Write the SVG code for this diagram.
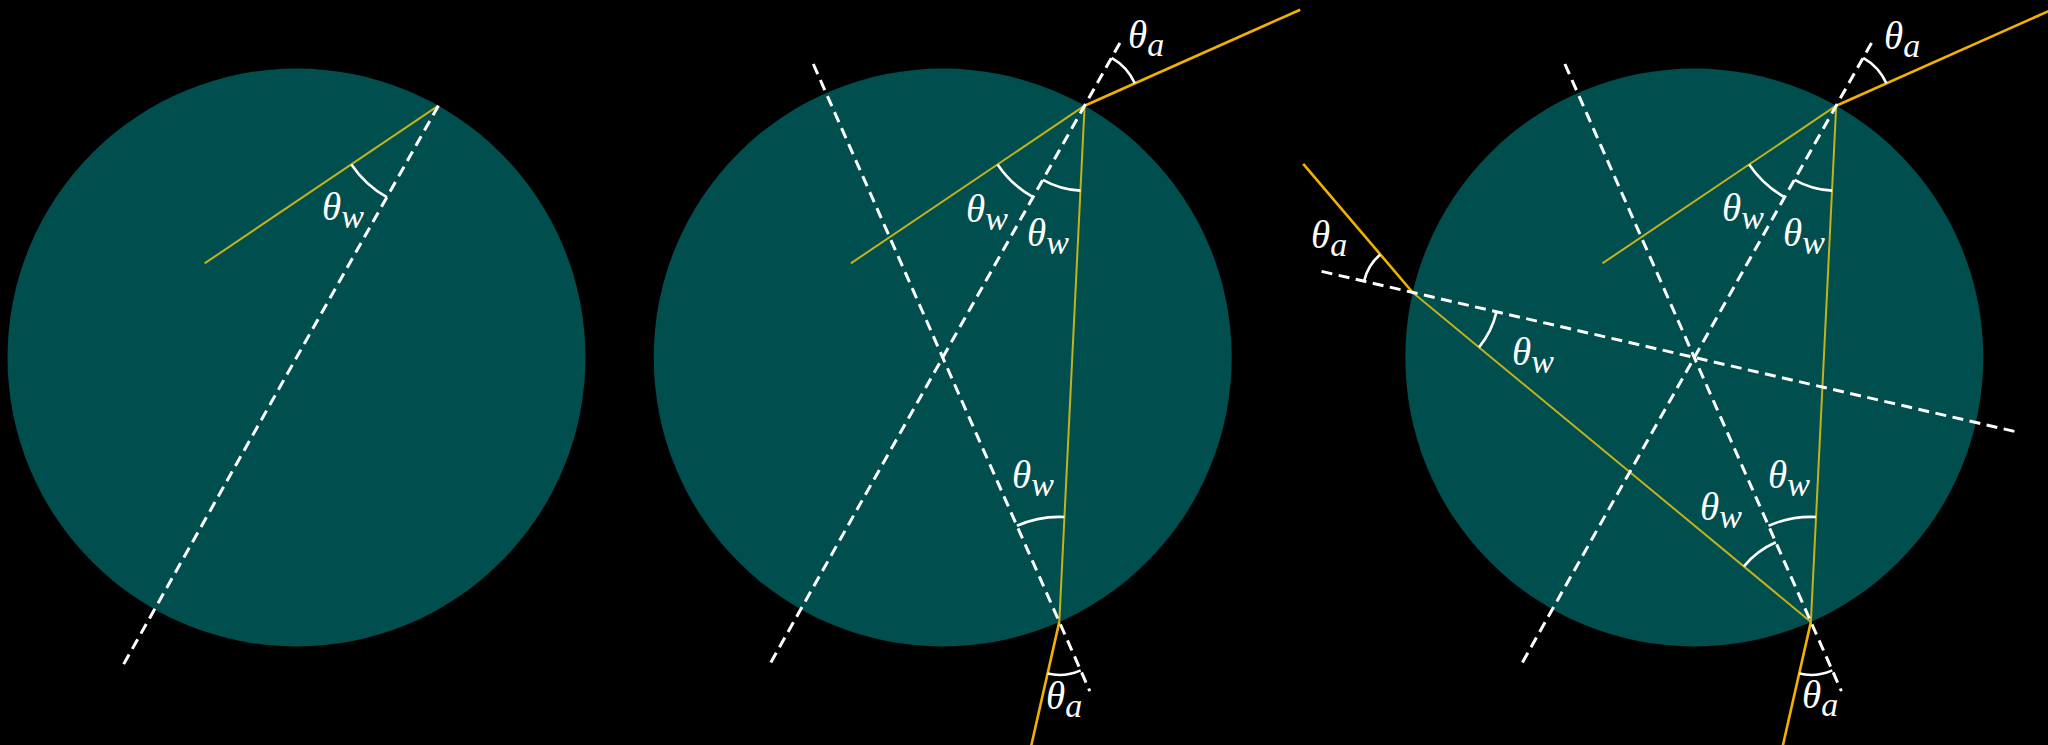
<svg xmlns="http://www.w3.org/2000/svg" width="2048" height="745" viewBox="0 0 2048 745">
<style>
.drop{fill:#014e4e}
.in{stroke:#c2b21c;stroke-width:2;fill:none}
.out{stroke:#f2b000;stroke-width:2.6;fill:none}
.nrm{stroke:#ffffff;stroke-width:3;stroke-dasharray:11 6.5;fill:none}
.ang{stroke:#ffffff;stroke-width:2.6;fill:none}
.lbl{fill:#ffffff;font-family:"Liberation Serif","DejaVu Serif",serif;font-style:italic;font-size:39px}
.sub{font-size:34px}
</style>
<rect x="0" y="0" width="2048" height="745" fill="#000000"/>

<g id="drop1">
  <g transform="translate(296.5,357.5)">
    <circle class="drop" cx="0" cy="0" r="289"/>
    <g id="connectors1">
      <line class="in" x1="-91.9" y1="-94.1" x2="141.9" y2="-251.8"/>
      <line class="nrm" x1="141.9" y1="-251.8" x2="-173.3" y2="307.5"/>
      <path class="ang" d="M90.4,-160.3 A105,105 0 0 1 54.9,-193.1"/>
    </g>
  </g>
  <text class="lbl" x="322" y="220">θ<tspan class="sub" dy="8">w</tspan></text>
</g>

<g id="drop2">
  <g transform="translate(942.7,357.5)">
    <circle class="drop" cx="0" cy="0" r="289"/>
    <g id="connectors2">
      <line class="in" x1="-91.9" y1="-94.1" x2="141.9" y2="-251.8"/>
      <line class="in" x1="141.9" y1="-251.8" x2="116.6" y2="264.4"/>
      <line class="out" x1="141.9" y1="-251.8" x2="357.5" y2="-347.8"/>
      <line class="out" x1="116.6" y1="264.4" x2="83.4" y2="410.7"/>
      <line class="nrm" x1="177.2" y1="-314.5" x2="-173.3" y2="307.5"/>
      <line class="nrm" x1="-129.4" y1="-293.5" x2="147.1" y2="333.6"/>
      <path class="ang" d="M90.4,-160.3 A105,105 0 0 1 54.9,-193.1"/>
      <path class="ang" d="M137.8,-166.9 A85,85 0 0 1 100.2,-177.7"/>
      <path class="ang" d="M168.9,-299.7 A55,55 0 0 1 192.1,-274.2"/>
      <path class="ang" d="M74.2,168.3 A105,105 0 0 1 121.7,159.5"/>
      <path class="ang" d="M138.0,312.9 A53,53 0 0 1 104.9,316.1"/>
    </g>
  </g>
  <text class="lbl" x="1128" y="48">θ<tspan class="sub" dy="8">a</tspan></text>
  <text class="lbl" x="966" y="222">θ<tspan class="sub" dy="8">w</tspan></text>
  <text class="lbl" x="1027" y="246">θ<tspan class="sub" dy="8">w</tspan></text>
  <text class="lbl" x="1012" y="488">θ<tspan class="sub" dy="8">w</tspan></text>
  <text class="lbl" x="1046" y="709">θ<tspan class="sub" dy="8">a</tspan></text>
</g>

<g id="drop3">
  <g transform="translate(1694.3,357.5)">
    <circle class="drop" cx="0" cy="0" r="289"/>
    <g id="connectors3">
      <line class="in" x1="-91.9" y1="-94.1" x2="141.9" y2="-251.8"/>
      <line class="in" x1="141.9" y1="-251.8" x2="116.6" y2="264.4"/>
      <line class="in" x1="116.6" y1="264.4" x2="-281.6" y2="-65.0"/>
      <line class="out" x1="141.9" y1="-251.8" x2="357.5" y2="-347.8"/>
      <line class="out" x1="116.6" y1="264.4" x2="83.4" y2="410.7"/>
      <line class="out" x1="-281.6" y1="-65.0" x2="-391.1" y2="-193.7"/>
      <line class="nrm" x1="177.2" y1="-314.5" x2="-173.3" y2="307.5"/>
      <line class="nrm" x1="-129.4" y1="-293.5" x2="147.1" y2="333.6"/>
      <line class="nrm" x1="-372.7" y1="-86.1" x2="324.5" y2="74.9"/>
      <path class="ang" d="M90.4,-160.3 A105,105 0 0 1 54.9,-193.1"/>
      <path class="ang" d="M137.8,-166.9 A85,85 0 0 1 100.2,-177.7"/>
      <path class="ang" d="M168.9,-299.7 A55,55 0 0 1 192.1,-274.2"/>
      <path class="ang" d="M74.2,168.3 A105,105 0 0 1 121.7,159.5"/>
      <path class="ang" d="M49.6,208.9 A87,87 0 0 1 81.5,184.8"/>
      <path class="ang" d="M138.0,312.9 A53,53 0 0 1 104.9,316.1"/>
      <path class="ang" d="M-197.8,-45.6 A86,86 0 0 1 -215.3,-10.2"/>
      <path class="ang" d="M-330.3,-76.3 A50,50 0 0 1 -314.0,-103.1"/>
    </g>
  </g>
  <text class="lbl" x="1884" y="49">θ<tspan class="sub" dy="8">a</tspan></text>
  <text class="lbl" x="1722" y="221">θ<tspan class="sub" dy="8">w</tspan></text>
  <text class="lbl" x="1783" y="246">θ<tspan class="sub" dy="8">w</tspan></text>
  <text class="lbl" x="1311" y="248">θ<tspan class="sub" dy="8">a</tspan></text>
  <text class="lbl" x="1512" y="365">θ<tspan class="sub" dy="8">w</tspan></text>
  <text class="lbl" x="1768" y="488">θ<tspan class="sub" dy="8">w</tspan></text>
  <text class="lbl" x="1700" y="520">θ<tspan class="sub" dy="8">w</tspan></text>
  <text class="lbl" x="1802" y="708">θ<tspan class="sub" dy="8">a</tspan></text>
</g>
</svg>
